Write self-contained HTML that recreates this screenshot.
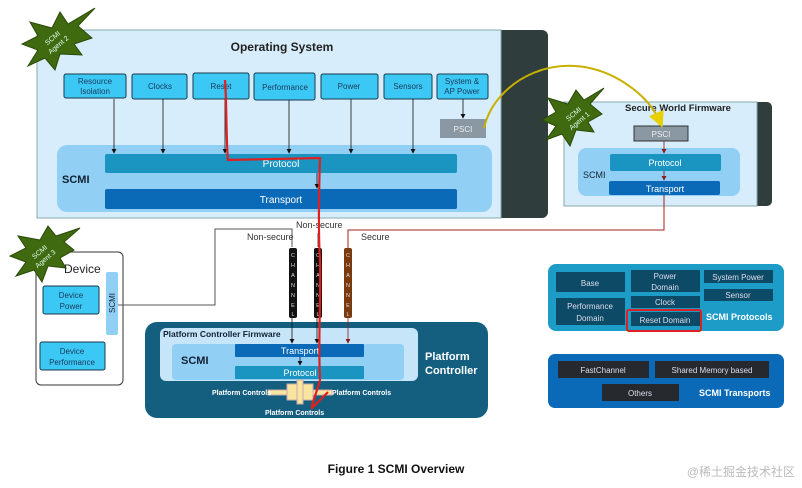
<!DOCTYPE html>
<html><head><meta charset="utf-8"><style>
html,body{margin:0;padding:0;background:#fff}
svg{display:block}
text{font-family:"Liberation Sans","Noto Sans CJK SC",sans-serif}
</style></head><body>
<svg width="802" height="488" viewBox="0 0 802 488" xmlns="http://www.w3.org/2000/svg">
<defs>
<marker id="a" markerWidth="6" markerHeight="6" refX="5" refY="3" orient="auto"><path d="M0,0L6,3L0,6z" fill="#111"/></marker>
<marker id="ar" markerWidth="6" markerHeight="6" refX="5" refY="3" orient="auto"><path d="M0,0L6,3L0,6z" fill="#8a1a1a"/></marker>
<marker id="ay" markerWidth="8" markerHeight="8" refX="6" refY="4" orient="auto"><path d="M0,0L8,4L0,8z" fill="#e8d000"/></marker>
</defs>

<!-- OS -->
<rect x="495" y="30" width="53" height="188" rx="6" fill="#2f3e3c"/>
<rect x="37" y="30" width="464" height="188" fill="#d7edfb" stroke="#8aa" stroke-width="1"/>
<text x="282" y="51" font-size="12" font-weight="bold" text-anchor="middle" fill="#222">Operating System</text>
<rect x="57" y="145" width="435" height="67" rx="10" fill="#92cff5"/>
<text x="62" y="183" font-size="11" font-weight="bold" fill="#123">SCMI</text>
<rect x="105" y="154" width="352" height="19" rx="2" fill="#1a94c0"/>
<text x="281" y="167" font-size="10" fill="#fff" text-anchor="middle">Protocol</text>
<rect x="105" y="189" width="352" height="20" rx="2" fill="#0a6ab8"/>
<text x="281" y="203" font-size="10" fill="#fff" text-anchor="middle">Transport</text>
<g fill="#3cc8f5" stroke="#1a3a4a" stroke-width="1">
<rect x="64" y="74" width="62" height="24" rx="2"/>
<rect x="132" y="74" width="55" height="25" rx="2"/>
<rect x="193" y="73" width="56" height="26" rx="2"/>
<rect x="254" y="73" width="61" height="27" rx="2"/>
<rect x="321" y="74" width="57" height="25" rx="2"/>
<rect x="384" y="74" width="48" height="25" rx="2"/>
<rect x="437" y="74" width="51" height="25" rx="2"/>
</g>
<g font-size="8" fill="#1a3a5a" text-anchor="middle">
<text x="95" y="84">Resource</text><text x="95" y="94">Isolation</text>
<text x="160" y="89">Clocks</text>
<text x="221" y="89">Reset</text>
<text x="285" y="90">Performance</text>
<text x="349" y="89">Power</text>
<text x="408" y="89">Sensors</text>
<text x="462" y="84">System &amp;</text><text x="462" y="94">AP Power</text>
</g>
<rect x="440" y="119" width="46" height="19" fill="#8a98a4"/>
<text x="463" y="132" font-size="8" fill="#eee" text-anchor="middle">PSCI</text>
<g stroke="#111" stroke-width="0.8" marker-end="url(#a)">
<line x1="114" y1="99" x2="114" y2="153"/><line x1="163" y1="99" x2="163" y2="153"/>
<line x1="225" y1="99" x2="225" y2="153"/><line x1="289" y1="100" x2="289" y2="153"/>
<line x1="351" y1="99" x2="351" y2="153"/><line x1="413" y1="99" x2="413" y2="153"/>
<line x1="463" y1="99" x2="463" y2="118"/><line x1="317" y1="173" x2="317" y2="188"/>
</g>

<!-- Secure world -->
<rect x="750" y="102" width="22" height="104" rx="5" fill="#2f3e3c"/>
<rect x="564" y="102" width="193" height="104" fill="#d7edfb" stroke="#8aa"/>
<text x="678" y="111" font-size="9.5" font-weight="bold" text-anchor="middle" fill="#222">Secure World Firmware</text>
<rect x="634" y="126" width="54" height="15" fill="#8a98a4" stroke="#333"/>
<text x="661" y="137" font-size="8" fill="#eee" text-anchor="middle">PSCI</text>
<rect x="578" y="148" width="162" height="48" rx="8" fill="#92cff5"/>
<text x="583" y="178" font-size="9" fill="#123">SCMI</text>
<rect x="610" y="154" width="111" height="17" rx="2" fill="#1a94c0"/>
<text x="665" y="166" font-size="9" fill="#fff" text-anchor="middle">Protocol</text>
<rect x="609" y="181" width="111" height="14" rx="2" fill="#0a6ab8"/>
<text x="665" y="192" font-size="9" fill="#fff" text-anchor="middle">Transport</text>
<g stroke="#8a1a1a" stroke-width="0.8" marker-end="url(#ar)">
<line x1="664" y1="141" x2="664" y2="153"/><line x1="664" y1="171" x2="664" y2="180"/>
</g>
<path d="M664,195V230H348V248" fill="none" stroke="#a02020" stroke-width="1"/>

<!-- yellow curve -->
<path d="M484,128C495,80 560,45 620,80C645,95 655,110 661,124" fill="none" stroke="#c8b000" stroke-width="2" marker-end="url(#ay)"/>

<!-- Device -->
<rect x="36" y="252" width="87" height="133" rx="5" fill="#fff" stroke="#333"/>
<text x="64" y="273" font-size="12" fill="#222">Device</text>
<rect x="43" y="286" width="56" height="28" rx="2" fill="#3cc8f5" stroke="#1a3a4a"/>
<text x="71" y="298" font-size="8" text-anchor="middle" fill="#1a3a5a">Device</text><text x="71" y="309" font-size="8" text-anchor="middle" fill="#1a3a5a">Power</text>
<rect x="40" y="342" width="65" height="28" rx="2" fill="#3cc8f5" stroke="#1a3a4a"/>
<text x="72" y="354" font-size="8" text-anchor="middle" fill="#1a3a5a">Device</text><text x="72" y="365" font-size="8" text-anchor="middle" fill="#1a3a5a">Performance</text>
<rect x="106" y="272" width="12" height="63" rx="2" fill="#92cff5"/>
<text x="115" y="303" font-size="8" fill="#123" text-anchor="middle" transform="rotate(-90 115 303)">SCMI</text>
<path d="M118,305H215V229H292V247" fill="none" stroke="#555" stroke-width="1"/>
<text x="247" y="240" font-size="9" fill="#333">Non-secure</text>
<text x="296" y="228" font-size="9" fill="#333">Non-secure</text>
<text x="361" y="240" font-size="9" fill="#333">Secure</text>
<line x1="318" y1="233" x2="318" y2="247" stroke="#555"/>

<!-- Channels -->
<rect x="289" y="248" width="8" height="70" rx="2" fill="#111"/>
<rect x="314" y="248" width="8" height="70" rx="2" fill="#111"/>
<rect x="344" y="248" width="8" height="70" rx="2" fill="#7a3a10"/>
<g font-size="5.5" fill="#ddd" text-anchor="middle">
<text x="293" y="257">C</text><text x="293" y="267">H</text><text x="293" y="277">A</text><text x="293" y="287">N</text><text x="293" y="297">N</text><text x="293" y="307">E</text><text x="293" y="316">L</text>
<text x="318" y="257">C</text><text x="318" y="267">H</text><text x="318" y="277">A</text><text x="318" y="287">N</text><text x="318" y="297">N</text><text x="318" y="307">E</text><text x="318" y="316">L</text>
<text x="348" y="257">C</text><text x="348" y="267">H</text><text x="348" y="277">A</text><text x="348" y="287">N</text><text x="348" y="297">N</text><text x="348" y="307">E</text><text x="348" y="316">L</text>
</g>

<!-- Platform controller -->
<rect x="145" y="322" width="343" height="96" rx="12" fill="#145f80"/>
<rect x="160" y="328" width="258" height="53" rx="6" fill="#c6e5f8"/>
<text x="163" y="337" font-size="8.5" font-weight="bold" fill="#123">Platform Controller Firmware</text>
<rect x="172" y="344" width="232" height="36" rx="4" fill="#92cff5"/>
<text x="181" y="364" font-size="11" font-weight="bold" fill="#123">SCMI</text>
<rect x="235" y="344" width="129" height="13" rx="1" fill="#0a6ab8"/>
<text x="300" y="354" font-size="9" fill="#fff" text-anchor="middle">Transport</text>
<rect x="235" y="366" width="129" height="13" rx="1" fill="#1a94c0"/>
<text x="300" y="376" font-size="9" fill="#fff" text-anchor="middle">Protocol</text>
<text x="425" y="360" font-size="11" font-weight="bold" fill="#fff">Platform</text>
<text x="425" y="374" font-size="11" font-weight="bold" fill="#fff">Controller</text>
<g stroke="#111" stroke-width="0.8" marker-end="url(#a)">
<line x1="292" y1="318" x2="292" y2="343"/><line x1="317" y1="318" x2="317" y2="343"/><line x1="300" y1="357" x2="300" y2="365"/>
</g>
<line x1="348" y1="318" x2="348" y2="343" stroke="#8a1a1a" stroke-width="0.8" marker-end="url(#ar)"/>
<g fill="#f8e6a0" stroke="#caa">
<rect x="268" y="390" width="64" height="5"/><rect x="287" y="384" width="26" height="16"/><rect x="297" y="380" width="6" height="24"/>
</g>
<g font-size="7" font-weight="bold" fill="#fff">
<text x="212" y="395">Platform Controls</text><text x="332" y="395">Platform Controls</text><text x="265" y="415">Platform Controls</text>
</g>

<!-- Protocols -->
<rect x="548" y="264" width="236" height="67" rx="8" fill="#1d9cc8"/>
<g fill="#0d4a66">
<rect x="556" y="272" width="69" height="20"/><rect x="556" y="298" width="69" height="27"/>
<rect x="631" y="270" width="69" height="22"/><rect x="631" y="296" width="69" height="12"/><rect x="631" y="312" width="69" height="14"/>
<rect x="704" y="270" width="69" height="13"/><rect x="704" y="289" width="69" height="12"/>
</g>
<rect x="627" y="310" width="74" height="21" fill="none" stroke="#e02020" stroke-width="2" rx="2"/>
<g font-size="8" fill="#dde" text-anchor="middle">
<text x="590" y="286">Base</text><text x="590" y="309">Performance</text><text x="590" y="321">Domain</text>
<text x="665" y="279">Power</text><text x="665" y="290">Domain</text><text x="665" y="305">Clock</text><text x="665" y="323">Reset Domain</text>
<text x="738" y="280">System Power</text><text x="738" y="298">Sensor</text>
</g>
<text x="706" y="320" font-size="9" font-weight="bold" fill="#fff">SCMI Protocols</text>

<!-- Transports -->
<rect x="548" y="354" width="236" height="54" rx="7" fill="#0a6ab8"/>
<g fill="#262a2e"><rect x="558" y="361" width="91" height="17"/><rect x="655" y="361" width="114" height="17"/><rect x="602" y="384" width="77" height="17"/></g>
<g font-size="8" fill="#dde" text-anchor="middle">
<text x="603" y="373">FastChannel</text><text x="712" y="373">Shared Memory based</text><text x="640" y="396">Others</text>
</g>
<text x="699" y="396" font-size="9" font-weight="bold" fill="#fff">SCMI Transports</text>

<!-- red hand line -->
<path d="M225,80C227,110 226,140 228,160L320,158C319,190 318,230 320,260C321,300 318,340 320,380C316,395 311,405 312,408L328,392" fill="none" stroke="#e02020" stroke-width="2.2"/>

<!-- starbursts -->
<g fill="#3f6a10" stroke="#2a4a08">
<polygon points="95,8 78,26 92,38 74,44 82,55 60,54 55,70 45,58 28,66 38,50 22,44 38,36 30,22 52,28 60,12 68,24"/>
<polygon points="80,228 64,242 74,250 60,258 66,268 48,266 42,282 34,270 16,276 26,262 10,256 26,248 18,236 40,240 48,226 56,236"/>
<polygon points="604,88 590,104 602,114 588,122 594,132 576,130 570,146 562,134 546,140 556,126 542,120 556,112 548,98 568,104 576,90 584,100"/>
</g>
<g font-size="7" fill="#dfe" text-anchor="middle">
<text transform="translate(56,42) rotate(-40)"><tspan x="0" y="-3">SCMI</tspan><tspan x="0" y="6">Agent 2</tspan></text>
<text transform="translate(43,256) rotate(-40)"><tspan x="0" y="-3">SCMI</tspan><tspan x="0" y="6">Agent 3</tspan></text>
<text transform="translate(577,118) rotate(-40)"><tspan x="0" y="-3">SCMI</tspan><tspan x="0" y="6">Agent 1</tspan></text>
</g>

<text x="396" y="473" font-size="12" font-weight="bold" text-anchor="middle" fill="#111">Figure 1 SCMI Overview</text>
<text x="795" y="476" font-size="12" text-anchor="end" fill="#bbb">@稀土掘金技术社区</text>
</svg>
</body></html>
